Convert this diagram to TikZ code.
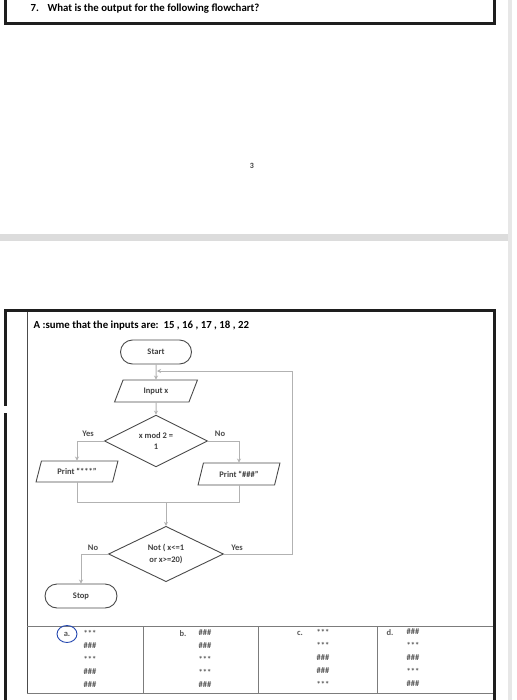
\documentclass[tikz,border=0pt]{standalone}
\usepackage{fontspec}
\setmainfont{Carlito}
\usepackage{tikz}
\usetikzlibrary{arrows.meta,positioning,calc,shapes.geometric,shapes.misc}
\definecolor{frameBd}{HTML}{1E1E1E}
\definecolor{pageGap}{HTML}{DCDCDC}
\definecolor{shapeBd}{HTML}{4A4A4A}
\definecolor{flowLn}{HTML}{B2B2B2}
\definecolor{tableLn}{HTML}{7C7C7C}
\definecolor{penBlue}{HTML}{2447B0}
\newcommand\stars{***}
\newcommand\hashes{\#\#\#}
\tikzset{
  frame/.style={draw=frameBd, line width=3pt},
  term/.style={
    rounded rectangle, draw=shapeBd, line width=0.9pt,
    minimum width=71pt, minimum height=24pt, inner sep=0pt,
    font=\fontsize{8.5}{9}\selectfont\bfseries, text=black!75
  },
  io/.style={
    trapezium, trapezium left angle=65, trapezium right angle=115,
    trapezium stretches=true, draw=shapeBd, line width=0.9pt,
    minimum width=82pt, minimum height=22pt, inner sep=0pt,
    font=\fontsize{8.5}{9}\selectfont\bfseries, text=black!75
  },
  decision/.style={
    diamond, draw=shapeBd, line width=0.9pt, inner sep=0pt,
    align=center, font=\fontsize{8.5}{11.5}\selectfont\bfseries, text=black!75
  },
  flow/.style={-{Stealth[length=4pt,width=4pt]}, draw=flowLn, line width=1pt},
  flowline/.style={draw=flowLn, line width=1pt},
  branch/.style={font=\fontsize{8.5}{9}\selectfont\bfseries, text=black!70},
  answer/.style={font=\fontsize{8.5}{9}\selectfont\bfseries, text=black!65},
  tabline/.style={draw=tableLn, line width=0.8pt}
}
\begin{document}
\begin{tikzpicture}[x=1pt, y=-1pt]
  \useasboundingbox[fill=white] (0,0) rectangle (516,700);

  % --- page background bits
  \fill[pageGap] (0,234) rectangle (509,241);
  \fill[pageGap!70] (508,0) rectangle (512,700);

  % --- question box
  \draw[frame] (5.5,-4) rectangle (494.5,23.5);
  \node[anchor=base west, font=\fontsize{10.8}{12}\selectfont\bfseries] (qnum) at (27,12) {7.};
  \node[anchor=base west, font=\fontsize{10.8}{12}\selectfont\bfseries] (qtext) at (44,12)
        {What is the output for the following flowchart?};
  \node[font=\fontsize{8}{9}\selectfont\bfseries, text=black!75] (pageno) at (252,166) {3};

  % --- second box
  \draw[frame] (5.5,310.5) -- (5.5,704) (494.5,310.5) -- (494.5,704);
  \draw[frame] (4,310.5) -- (496,310.5);
  \fill[white] (0,406) rectangle (9,413);
  \draw[tabline, draw=black!70] (27,312) -- (27,693);
  \node[anchor=base west, font=\fontsize{10.8}{12}\selectfont\bfseries] (assume) at (30,328)
        {A :sume that the inputs are:\ \ 15 , 16 , 17 , 18 , 22};

  % --- flowchart nodes
  \node[term] (start) at (156,352) {Start};
  \node[io, minimum width=83pt] (input) at (156,391) {Input x};
  \node[decision, minimum width=103pt, minimum height=48pt] (mod) at (156,441) {x mod 2 =\\1};
  \node[io, minimum height=21pt] (starP) at (77,471.5) {Print “***”};
  \node[io] (hashP) at (239,474) {Print “\#\#\#”};
  \node[decision, minimum width=115pt, minimum height=54pt] (range) at (166,554)
        {Not ( x<=1\\or x>=20)};
  \node[term, minimum width=72pt] (stop) at (81,596) {Stop};

  \coordinate (mergePt) at (166,502);
  \coordinate (loopTop) at (292,371);
  \coordinate (loopIn)  at (157,371);

  % --- branch labels
  \node[branch] (yesA) at (88,434) {Yes};
  \node[branch] (noA)  at (220,434) {No};
  \node[branch] (noB)  at (93,548) {No};
  \node[branch] (yesB) at (237,548) {Yes};

  % --- arrows
  \draw[flow] (start) -- (input);
  \draw[flow] (input) -- (mod);
  \draw[flow] (mod.west) -| (starP);
  \draw[flow] (mod.east) -| (hashP);
  \draw[flowline] (starP.south) |- (mergePt);
  \draw[flowline] (hashP.south) |- (mergePt);
  \draw[flow] (mergePt) -- (range);
  \draw[flow] (range.west) -| (stop);
  \draw[flow] (range.east) -| (loopTop) -- (loopIn);

  % --- answer table
  \draw[tabline] (27,626) -- (493,626) (27,693) -- (493,693);
  \draw[tabline] (143,626) -- (143,693) (258,626) -- (258,693) (377,626) -- (377,693);

  \node[answer] (labA) at (67,634) {a.};
  \draw[penBlue, line width=0.9pt] (labA.center) ellipse [x radius=10pt, y radius=8.5pt];
  \node[answer] (labB) at (183,634) {b.};
  \node[answer] (labC) at (300,633) {c.};
  \node[answer] (labD) at (390,633) {d.};

  \foreach \txt [count=\i] in {\stars,\hashes,\stars,\hashes,\hashes}
    \node[answer] (ansA\i) at (90,{620+13*\i}) {\txt};
  \foreach \txt [count=\i] in {\hashes,\hashes,\stars,\stars,\hashes}
    \node[answer] (ansB\i) at (205,{620+13*\i}) {\txt};
  \foreach \txt [count=\i] in {\stars,\stars,\hashes,\hashes,\stars}
    \node[answer] (ansC\i) at (323,{619+13*\i}) {\txt};
  \foreach \txt [count=\i] in {\hashes,\stars,\hashes,\stars,\hashes}
    \node[answer] (ansD\i) at (413,{619+13*\i}) {\txt};
\end{tikzpicture}
\end{document}
